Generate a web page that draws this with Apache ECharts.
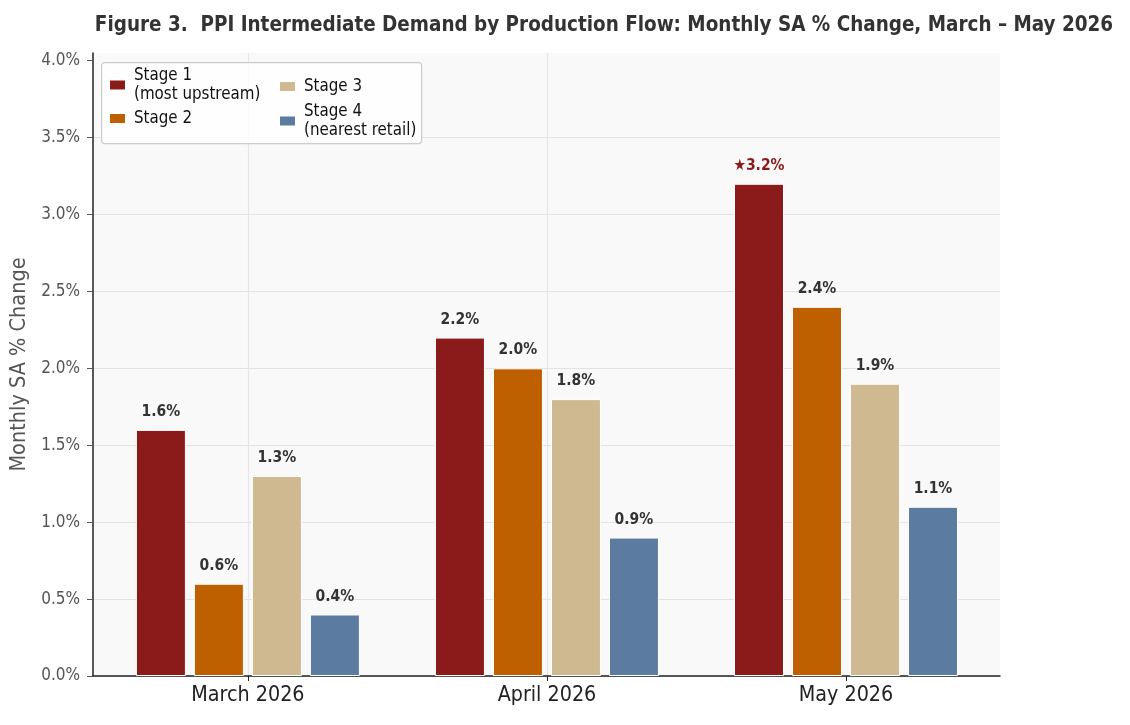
<!DOCTYPE html>
<html>
<head>
<meta charset="utf-8">
<script src="https://cdn.jsdelivr.net/npm/echarts@6/dist/echarts.min.js"></script>
<style>
  html, body { margin: 0; padding: 0; background: #fff; }
  #chart { width: 1130px; height: 725px; }
</style>
</head>
<body>
<div id="chart"></div>
<script>
// 数据
var months = ['March 2026', 'April 2026', 'May 2026']
var stageNames = ['Stage 1\n(most upstream)', 'Stage 2', 'Stage 3', 'Stage 4\n(nearest retail)']
var stage1 = [1.6, 2.2, 3.2]
var stage2 = [0.6, 2.0, 2.4]
var stage3 = [1.3, 1.8, 1.9]
var stage4 = [0.4, 0.9, 1.1]
var yTicks = [0, 0.5, 1.0, 1.5, 2.0, 2.5, 3.0, 3.5, 4.0]
var xTicks = [0, 1, 2]
var starMark = { series: 0, index: 2 } // May stage 1 highlighted

var colors = ['#8b1a1a', '#bf6000', '#cfb991', '#5b7ba1']
var font = 'DejaVu Sans Condensed, DejaVu Sans'

function makeSeries (name, data, idx) {
  return {
    name: name,
    type: 'bar',
    // x 轴为数值轴，类目位置 0,1,2
    data: data.map(function (v, i) { return [xTicks[i], v] }),
    barWidth: 50,
    barGap: '16%',
    itemStyle: { color: colors[idx], borderColor: '#fff', borderWidth: 1 },
    label: {
      show: true,
      position: 'top',
      distance: 10,
      fontFamily: font,
      fontWeight: 'bold',
      fontSize: 15.5,
      color: '#333',
      formatter: function (p) {
        var v = p.value[1].toFixed(1) + '%'
        if (idx === starMark.series && p.dataIndex === starMark.index) {
          return '{star|★' + v + '}'
        }
        return v
      },
      rich: {
        star: { color: '#8b1a1a', fontFamily: font, fontWeight: 'bold', fontSize: 15.5 }
      }
    }
  }
}

var legendText = { fontFamily: font, fontSize: 16.8, color: '#111', lineHeight: 19, padding: [0, 0, 0, 3] }

var option = {
  animation: false,
  backgroundColor: '#fff',
  title: {
    text: 'Figure 3.  PPI Intermediate Demand by Production Flow: Monthly SA % Change, March \u2013 May 2026',
    left: 599,
    textAlign: 'center',
    top: 11,
    textStyle: { fontFamily: font, fontWeight: 'bold', fontSize: 20.45, color: '#333' }
  },
  grid: {
    left: 93, right: 130, top: 53, bottom: 49,
    outerBoundsMode: 'none',
    containLabel: false,
    show: true, backgroundColor: '#f9f9f9', borderWidth: 0
  },
  legend: [
    {
      data: [stageNames[0], stageNames[1]],
      orient: 'vertical',
      left: 108, top: 66, padding: 0,
      itemWidth: 17, itemHeight: 11, itemGap: 5,
      icon: 'rect',
      textStyle: legendText
    },
    {
      data: [stageNames[2], stageNames[3]],
      orient: 'vertical',
      left: 278, top: 77, padding: 0,
      itemWidth: 17, itemHeight: 11, itemGap: 6,
      icon: 'rect',
      textStyle: legendText
    }
  ],
  graphic: [
    {
      type: 'rect',
      left: 101, top: 62,
      shape: { width: 320, height: 81, r: 3 },
      style: { fill: 'rgba(255,255,255,0.8)', stroke: '#cccccc', lineWidth: 1.2 },
      z: 3
    }
  ],
  xAxis: {
    type: 'value',
    min: -0.518,
    max: 2.515,
    minInterval: 1,
    maxInterval: 1,
    axisLine: { onZero: false, lineStyle: { color: '#222', width: 1.5 } },
    axisTick: { show: true, length: 5, customValues: xTicks, lineStyle: { color: '#222' } },
    splitLine: { show: true, showMinLine: true, showMaxLine: false, lineStyle: { color: '#e6e6e6', width: 1.2 } },
    axisLabel: {
      customValues: xTicks,
      fontFamily: font, fontSize: 21.3, color: '#222', margin: 9,
      formatter: function (v) { return months[Math.round(v)] }
    }
  },
  yAxis: {
    type: 'value',
    min: 0,
    max: 4.05,
    interval: 0.5,
    name: 'Monthly SA % Change',
    nameLocation: 'middle',
    nameGap: 59,
    nameTextStyle: { fontFamily: font, fontSize: 21.5, color: '#555' },
    axisLine: { show: true, onZero: false, lineStyle: { color: '#222', width: 1.5 } },
    axisTick: { show: true, length: 6, customValues: yTicks, lineStyle: { color: '#555' } },
    axisLabel: {
      customValues: yTicks,
      fontFamily: font, fontSize: 17, color: '#555', margin: 13,
      formatter: function (v) { return v.toFixed(1) + '%' }
    },
    splitLine: { show: true, showMaxLine: false, lineStyle: { color: '#e3e3e3', width: 1.2 } }
  },
  series: [
    makeSeries(stageNames[0], stage1, 0),
    makeSeries(stageNames[1], stage2, 1),
    makeSeries(stageNames[2], stage3, 2),
    makeSeries(stageNames[3], stage4, 3)
  ]
}

var chart = echarts.init(document.getElementById('chart'))
chart.setOption(option)
</script>
</body>
</html>
